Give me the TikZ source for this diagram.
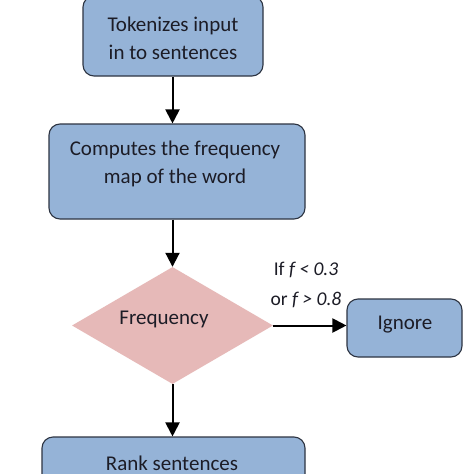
\documentclass[tikz,border=0pt]{standalone}
\usepackage{fontspec}
\setmainfont{Carlito}
\usetikzlibrary{shapes.geometric,arrows.meta}
\definecolor{boxfill}{RGB}{149,179,215}
\definecolor{boxline}{RGB}{45,52,66}
\definecolor{dfill}{RGB}{230,185,184}
\definecolor{txtc}{RGB}{28,28,38}
\tikzset{
  box/.style={draw=boxline, line width=1.1pt, fill=boxfill, rounded corners=11pt, inner sep=0pt},
  txt/.style={text=txtc, font=\fontsize{21}{28}\selectfont, align=center, inner sep=0pt},
  arr/.style={line width=2pt, -{Triangle[length=14pt,width=14pt]}},
}
\begin{document}
\begin{tikzpicture}[x=1pt,y=-1pt]
\fill[white] (0,0) rectangle (474,474);
\useasboundingbox (0,0) rectangle (474,474);
\clip (0,0) rectangle (474,474);
% box 1
\node[box, minimum width=180pt, minimum height=80pt] (b1) at (173,36) {};
\node[txt] (t1) at (173,38) {Tokenizes input\\in to sentences};
% box 2
\node[box, minimum width=256pt, minimum height=95pt] (b2) at (177,171.5) {};
\node[txt] (t2) at (175,164) {Computes the frequency\\map of the word};
% diamond
\node[diamond, fill=dfill, minimum width=201pt, minimum height=117pt, inner sep=0pt] (d) at (172.5,325.5) {};
\node[txt] (t3) at (164,319) {Frequency};
% ignore
\node[box, minimum width=115pt, minimum height=58pt] (ig) at (404.5,328) {};
\node[txt] (t4) at (405,325) {Ignore};
% rank
\node[box, minimum width=263pt, minimum height=80pt] (rk) at (173.5,477) {};
\node[txt] (t5) at (172,463) {Rank sentences};
% condition label
\node[txt, font=\fontsize{19.5}{30}\selectfont] (cond) at (306,285) {If \textit{f < 0.3}\\or \textit{f > 0.8}};
% arrows
\draw[arr] (b1.south -| d.north) -- (b2.north -| d.north);
\draw[arr] (b2.south -| d.north) -- (d.north);
\draw[arr] (d.east) -- (ig.west |- d.east);
\draw[arr] (d.south) -- (rk.north -| d.south);
\end{tikzpicture}
\end{document}
